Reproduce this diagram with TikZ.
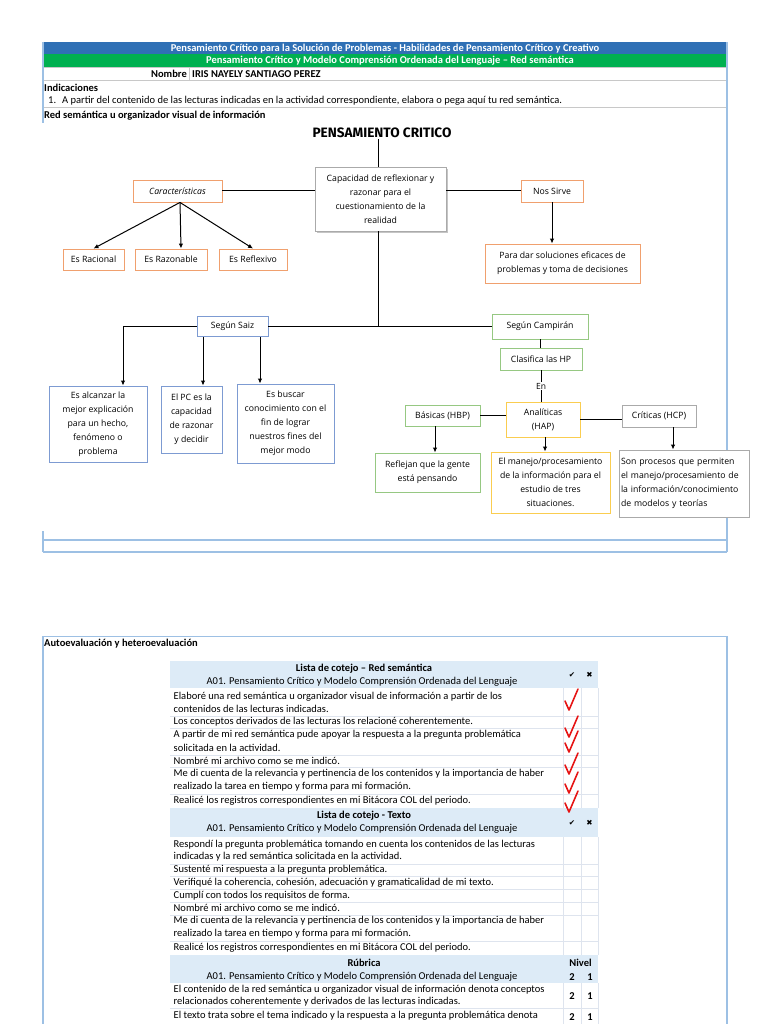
\documentclass[tikz,border=0pt]{standalone}
\usepackage{fontspec}
\setmainfont{Carlito}
\newfontfamily\hand{Open Sans}
\newfontfamily\titlefont{Fira Sans}
\newfontfamily\symf{DejaVu Sans}
\usetikzlibrary{arrows.meta,shadows}
\definecolor{hblue}{RGB}{47,112,181}
\definecolor{hgreen}{RGB}{0,176,80}
\definecolor{framec}{RGB}{157,192,228}
\definecolor{rowline}{RGB}{200,200,200}
\definecolor{thead}{RGB}{221,235,247}
\definecolor{tgrid}{RGB}{222,228,238}
\definecolor{orangeb}{RGB}{240,160,110}
\definecolor{blueb}{RGB}{125,155,210}
\definecolor{greenb}{RGB}{150,200,130}
\definecolor{yellowb}{RGB}{250,205,80}
\definecolor{grayb}{RGB}{170,170,170}
\definecolor{checkred}{RGB}{230,20,20}
\tikzset{
  base/.style={draw, line width=0.9pt, fill=white, align=center, inner sep=1pt,
    font=\hand\fontsize{8.7}{14}\selectfont},
  ob/.style={base, draw=orangeb},
  bb/.style={base, draw=blueb},
  gb/.style={base, draw=greenb},
  yb/.style={base, draw=yellowb},
  grb/.style={base, draw=grayb},
  arr/.style={-{Latex[length=5pt,width=4.5pt]}, line width=1pt},
  ln/.style={line width=1pt},
  frame/.style={draw=framec, line width=1.6pt},
  hdr/.style={text=white, font=\bfseries\fontsize{10.5}{11}\selectfont, inner sep=0pt},
  ttxt/.style={font=\fontsize{10.5}{11}\selectfont, inner sep=0pt},
  trow/.style={ttxt, anchor=west},
  thb/.style={font=\bfseries\fontsize{10.5}{11}\selectfont, inner sep=0pt},
  tsym/.style={font=\symf\fontsize{7.5}{8}\selectfont, inner sep=0pt},
  chk/.style={draw=checkred, line width=1.6pt, line join=round, line cap=round},
  grid/.style={draw=tgrid, line width=0.7pt},
}
\begin{document}
\begin{tikzpicture}[x=1pt,y=-1pt]
\useasboundingbox (0,0) rectangle (768,1024);
\fill[white] (0,0) rectangle (768,1024);

% ---------- upper form ----------
\fill[hblue] (43,42) rectangle (727,54);
\fill[hgreen] (43,54) rectangle (727,67);
\node[hdr] (h1) at (385,48.3) {Pensamiento Crítico para la Solución de Problemas - Habilidades de Pensamiento Crítico y Creativo};
\node[hdr] (h2) at (390,61) {Pensamiento Crítico y Modelo Comprensión Ordenada del Lenguaje – Red semántica};
\draw[rowline, line width=0.6pt] (43,67) -- (727,67) (43,80) -- (727,80) (189,67) -- (189,80) (43,107.5) -- (727,107.5);
\node[thb, anchor=east] (nm) at (187,74) {Nombre};
\node[thb, anchor=west] (nv) at (192,74) {IRIS NAYELY SANTIAGO PEREZ};
\node[thb, anchor=west] (ind) at (44,87.5) {Indicaciones};
\node[trow] (ind1) at (48,101) {1.\hspace{6pt}A partir del contenido de las lecturas indicadas en la actividad correspondiente, elabora o pega aquí tu red semántica.};
\node[thb, anchor=west] (rs) at (44,116) {Red semántica u organizador visual de información};
\draw[frame] (43,42) -- (43,123);
\draw[frame] (43,531) -- (43,552);
\draw[frame] (727,42) -- (727,552);
\draw[frame] (43,540) -- (727,540);
\draw[frame] (43,552) -- (727,552);

% ---------- semantic network ----------
\node[font=\titlefont\bfseries\fontsize{13.6}{14}\selectfont, inner sep=1pt] (title) at (382,133) {PENSAMIENTO CRITICO};
\node[base, draw=grayb, minimum width=131, minimum height=64,
      drop shadow={opacity=0.45, shadow xshift=2pt, shadow yshift=-2pt}] (cap) at (380.5,199)
  {Capacidad de reflexionar y\\razonar para el\\cuestionamiento de la\\realidad};
\node[ob, minimum width=89, minimum height=22, font=\hand\itshape\fontsize{8.7}{14}\selectfont] (car) at (177.5,191) {Características};
\node[ob, minimum width=62, minimum height=22] (nos) at (552,191) {Nos Sirve};
\node[ob, minimum width=61, minimum height=21] (rac) at (93.5,259.5) {Es Racional};
\node[ob, minimum width=72, minimum height=21] (raz) at (171,259.5) {Es Razonable};
\node[ob, minimum width=68, minimum height=21] (ref) at (253,259.5) {Es Reflexivo};
\node[ob, minimum width=155, minimum height=39] (para) at (562.5,263.5) {Para dar soluciones eficaces de\\problemas y toma de decisiones};
\node[bb, minimum width=71, minimum height=20] (saiz) at (232.5,326.5) {Según Saiz};
\node[gb, minimum width=96, minimum height=25] (camp) at (540,326.5) {Según Campirán};
\node[bb, minimum width=98, minimum height=76] (alc) at (98,424) {Es alcanzar la\\mejor explicación\\para un hecho,\\fenómeno o\\problema};
\node[bb, minimum width=61, minimum height=67] (pc) at (191.5,419.5) {El PC es la\\capacidad\\de razonar\\y decidir};
\node[bb, minimum width=97, minimum height=79] (bus) at (285.5,423.5) {Es buscar\\conocimiento con el\\fin de lograr\\nuestros fines del\\mejor modo};
\node[gb, minimum width=82, minimum height=22] (clas) at (541,359) {Clasifica las HP};
\node[yb, minimum width=74, minimum height=35] (ana) at (543,419.5) {Analíticas\\(HAP)};
\node[gb, minimum width=75, minimum height=21] (bas) at (442.5,415.5) {Básicas (HBP)};
\node[grb, minimum width=74, minimum height=22] (cri) at (659,416) {Críticas (HCP)};
\node[gb, minimum width=105, minimum height=39] (refl) at (427.5,472.5) {Reflejan que la gente\\está pensando};
\node[yb, minimum width=119, minimum height=61] (man) at (550.5,482.5) {El manejo/procesamiento\\de la información para el\\estudio de tres\\situaciones.};
\node[grb, minimum width=130, minimum height=67, align=left, text width=126] (son) at (684,483.5) {Son procesos que permiten\\el manejo/procesamiento de\\la información/conocimiento\\de modelos y teorías};

% connectors
\draw[ln] (title.south -| 378,0) -- (cap.north -| 378,0);
\coordinate (jn) at (378,326.5);
\draw[ln] (cap.south -| 378,0) -- (jn);
\draw[ln] (car.east) -- (car.east -| cap.west);
\draw[ln] (cap.east |- nos.west) -- (nos.west);
\draw[arr] ([xshift=2.5pt]car.south) -- (rac.north);
\draw[arr] ([xshift=2.5pt]car.south) -- ([xshift=10pt]raz.north);
\draw[arr] ([xshift=2.5pt]car.south) -- (ref.north);
\draw[arr] (nos.south) -- ([xshift=-10.5pt]para.north);
\coordinate (lft) at (123,326.5);
\draw[ln] (lft) -- (saiz.west);
\draw[ln] (saiz.east) -- (camp.west);
\draw[arr] (lft) -- (lft |- alc.north);
\draw[arr] ([xshift=-29.5pt]saiz.south) -- ([xshift=11.5pt]pc.north);
\draw[arr] ([xshift=27.5pt]saiz.south) -- ([xshift=-25.5pt]bus.north);
\draw[ln] (camp.south) -- (camp.south |- clas.north);
\draw[ln] (clas.south) -- node[fill=white, inner sep=1pt, font=\hand\fontsize{8.5}{9}\selectfont] (en) {En} (clas.south |- ana.north);
\draw[ln] (bas.east) -- (bas.east -| ana.west);
\draw[ln] (ana.east) -- (ana.east -| cri.west);
\draw[arr] ([xshift=-7.5pt]bas.south) -- ([xshift=7.5pt]refl.north);
\draw[arr] ([xshift=2pt]ana.south) -- ([xshift=-5.5pt]man.north);
\draw[arr] ([xshift=14pt]cri.south) -- ([xshift=-11pt]son.north);

% ---------- lower form ----------
\draw[frame] (43,1025) -- (43,636.5) -- (727,636.5) -- (727,1025);
\node[thb, anchor=west] (auto) at (44,643.5) {Autoevaluación y heteroevaluación};

\fill[thead] (170,661) rectangle (598,688);
\fill[thead] (170,808) rectangle (598,837);
\fill[thead] (170,955) rectangle (598,983);
\foreach \yy in {716,728,755,767,794,864,876,889,902,915,941,1008}
  \draw[grid] (170,\yy) -- (598,\yy);
\foreach \ya/\yb in {688/808,837/955,983/1025}
  \draw[grid] (563,\ya) -- (563,\yb) (581,\ya) -- (581,\yb) (598,\ya) -- (598,\yb);

\node[thb] (hA1) at (364,669) {Lista de cotejo – Red semántica};
\node[ttxt] (hA2) at (362,682) {A01. Pensamiento Crítico y Modelo Comprensión Ordenada del Lenguaje};
\node[tsym] (hAc) at (572,675) {✔};
\node[tsym] (hAx) at (589.5,675) {✖};
\node[thb] (hB1) at (364,816) {Lista de cotejo - Texto};
\node[ttxt] (hB2) at (362,829) {A01. Pensamiento Crítico y Modelo Comprensión Ordenada del Lenguaje};
\node[tsym] (hBc) at (572,823) {✔};
\node[tsym] (hBx) at (589.5,823) {✖};
\node[thb] (hC1) at (364,963) {Rúbrica};
\node[ttxt] (hC2) at (362,977) {A01. Pensamiento Crítico y Modelo Comprensión Ordenada del Lenguaje};
\node[thb] (nivel) at (580.5,963) {Nivel};
\node[thb] (n2) at (572,977) {2};
\node[thb] (n1) at (590,977) {1};
\node[thb] (v2a) at (572,996) {2};
\node[thb] (v1a) at (590,996) {1};
\node[thb] (v2b) at (572,1017) {2};
\node[thb] (v1b) at (590,1017) {1};

\foreach \yy/\txt [count=\i] in {
  697/{Elaboré una red semántica u organizador visual de información a partir de los},
  709/{contenidos de las lecturas indicadas.},
  722/{Los conceptos derivados de las lecturas los relacioné coherentemente.},
  735/{A partir de mi red semántica pude apoyar la respuesta a la pregunta problemática},
  748/{solicitada en la actividad.},
  761/{Nombré mi archivo como se me indicó.},
  774/{Me di cuenta de la relevancia y pertinencia de los contenidos y la importancia de haber},
  787/{realizado la tarea en tiempo y forma para mi formación.},
  801/{Realicé los registros correspondientes en mi Bitácora COL del periodo.},
  845/{Respondí la pregunta problemática tomando en cuenta los contenidos de las lecturas},
  857/{indicadas y la red semántica solicitada en la actividad.},
  870/{Sustenté mi respuesta a la pregunta problemática.},
  883/{Verifiqué la coherencia, cohesión, adecuación y gramaticalidad de mi texto.},
  896/{Cumplí con todos los requisitos de forma.},
  908/{Nombré mi archivo como se me indicó.},
  921/{Me di cuenta de la relevancia y pertinencia de los contenidos y la importancia de haber},
  934/{realizado la tarea en tiempo y forma para mi formación.},
  948/{Realicé los registros correspondientes en mi Bitácora COL del periodo.},
  990/{El contenido de la red semántica u organizador visual de información denota conceptos},
  1002/{relacionados coherentemente y derivados de las lecturas indicadas.},
  1016/{El texto trata sobre el tema indicado y la respuesta a la pregunta problemática denota}}
  \node[trow] (r\i) at (173.5,\yy) {\txt};

\foreach \b in {710,737,752,774,793,812}
  \draw[chk] (565,\b-9) -- (569,\b) -- (578,\b-21);
\end{tikzpicture}
\end{document}
